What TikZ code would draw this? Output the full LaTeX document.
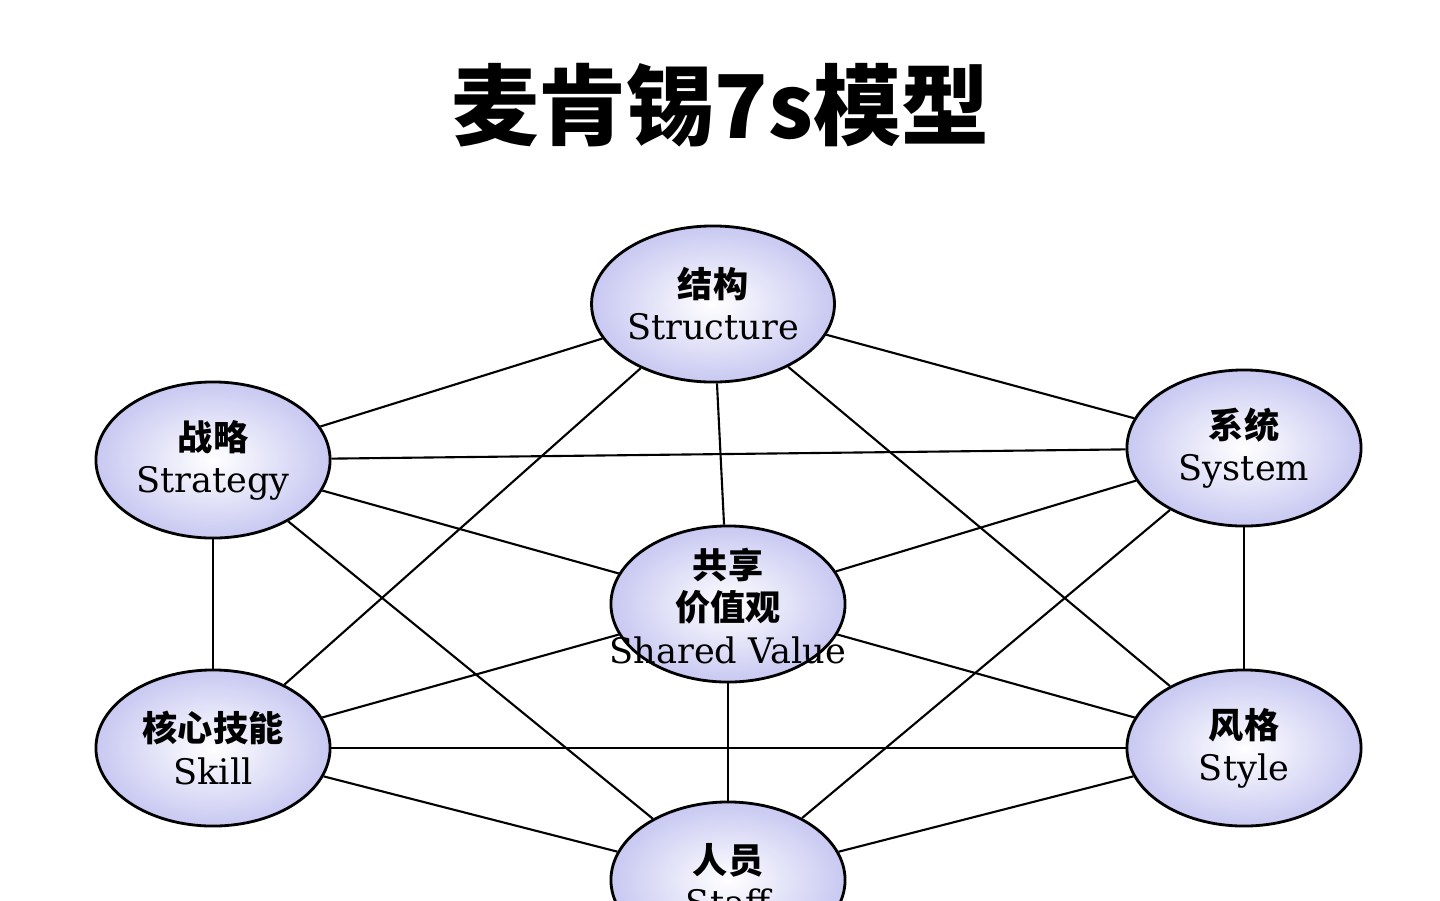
\documentclass[tikz,border=0pt]{standalone}
\usepackage{fontspec}
\setmainfont{DejaVu Serif}
\newfontfamily\cjk{Noto Sans CJK SC}
\usetikzlibrary{shapes.geometric}
\begin{document}
\begin{tikzpicture}[x=0.01cm,y=-0.01cm,
  sbox/.style={ellipse,draw=black,line width=0.8pt,minimum width=2.34cm,minimum height=1.56cm,
    inner color=white,outer color={rgb,255:red,200;green,200;blue,242},align=center,
    font=\fontsize{10}{12}\selectfont,inner sep=0pt},
  txt/.style={align=center,font=\fontsize{10}{12}\selectfont,inner sep=0pt},
  link/.style={line width=0.6pt}]
\useasboundingbox (0,0) rectangle (1440,900);
\clip (0,0) rectangle (1440,900);
\node (title) at (720,105) {\cjk\fontsize{25}{30}\selectfont\bfseries 麦肯锡7s模型};
\node[sbox] (st) at (713,304) {{\cjk\bfseries 结构}\\Structure};
\node[sbox] (sg) at (213,460) {{\cjk\bfseries 战略}\\Strategy};
\node[sbox] (sy) at (1244,448) {{\cjk\bfseries 系统}\\System};
\node[sbox] (sv) at (728,604) {};
\node[sbox] (sk) at (213,748) {{\cjk\bfseries 核心技能}\\Skill};
\node[sbox] (sl) at (1244,748) {{\cjk\bfseries 风格}\\Style};
\node[sbox] (sf) at (728,880) {{\cjk\bfseries 人员}\\Staff};
\draw[link] (sg)--(st); \draw[link] (st)--(sy); \draw[link] (sg)--(sy);
\draw[link] (st)--(sv); \draw[link] (st)--(sk); \draw[link] (st)--(sl);
\draw[link] (sg)--(sv); \draw[link] (sg)--(sk); \draw[link] (sg)--(sf);
\draw[link] (sy)--(sv); \draw[link] (sy)--(sl); \draw[link] (sy)--(sf);
\draw[link] (sv)--(sk); \draw[link] (sv)--(sl); \draw[link] (sv)--(sf);
\draw[link] (sk)--(sl); \draw[link] (sk)--(sf); \draw[link] (sl)--(sf);
\node[txt] (svt) at (728,606) {{\cjk\bfseries 共享}\\{\cjk\bfseries 价值观}\\Shared Value};
\end{tikzpicture}
\end{document}
